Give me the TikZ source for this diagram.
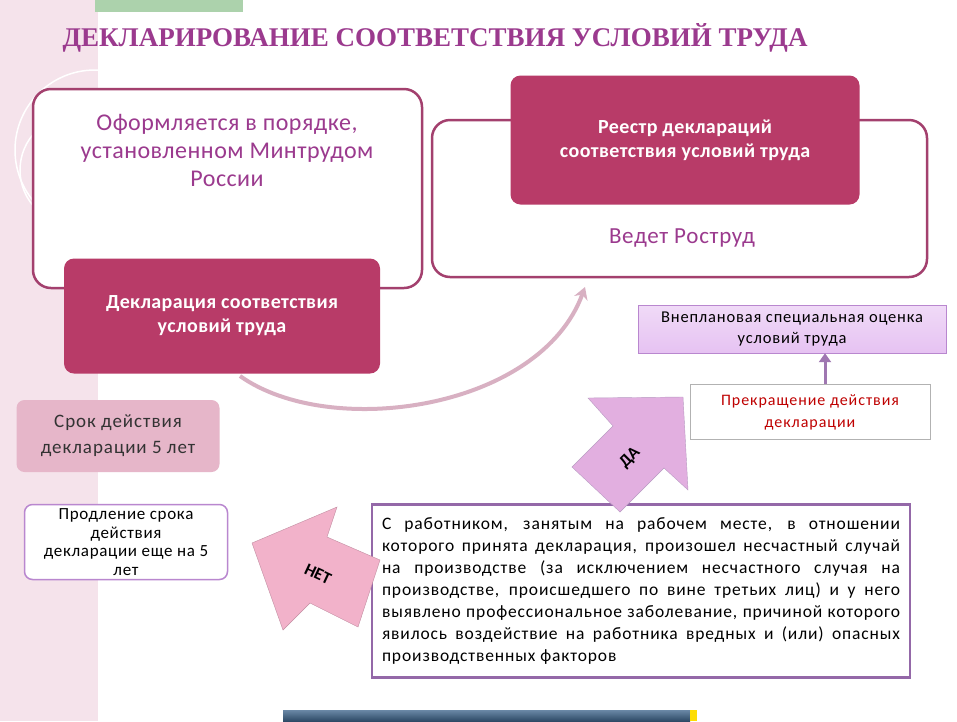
\documentclass[tikz,border=0pt]{standalone}
\usepackage{fontspec}
\setmainfont{Carlito}
\newfontfamily\titlefont{Liberation Serif}
\usetikzlibrary{arrows.meta}
\definecolor{maroon}{HTML}{A3406E}
\definecolor{magbox}{HTML}{B83B68}
\definecolor{plum}{HTML}{9B3A8E}
\definecolor{pinkbg}{HTML}{F5E3EB}
\definecolor{srok}{HTML}{E6B6C9}
\definecolor{lav}{HTML}{E6C2F2}
\definecolor{lavd}{HTML}{B987CF}
\definecolor{purpb}{HTML}{9468A8}
\definecolor{dapink}{HTML}{F2B2CA}
\definecolor{arcc}{HTML}{D8B0C2}
\definecolor{barA}{HTML}{2E4A66}
\definecolor{barB}{HTML}{6A88A6}
\tikzset{
 outbox/.style={draw=maroon,line width=2.5pt,fill=white,rounded corners=18pt},
 filbox/.style={fill=magbox,rounded corners=10pt,text=white,font=\fontsize{20}{24}\selectfont\bfseries\addfontfeatures{LetterSpace=2},align=center},
}
\begin{document}
\begin{tikzpicture}[x=1pt,y=-1pt]
\useasboundingbox (0,0) rectangle (957,721);
\fill[white] (0,0) rectangle (957,721);
\fill[pinkbg] (0,0) rectangle (98,721);
\draw[white,line width=1.5pt] (95,150) circle (80);
\draw[white,line width=1.5pt] (75,170) circle (55);
\fill[green!30!gray!50!white] (95,0) rectangle (243,12);
\shade[top color=barB,bottom color=barA] (283,710) rectangle (690,721);
\fill[yellow!80!orange] (690,710) rectangle (697,721);
\node[font=\titlefont\bfseries\fontsize{27}{30}\selectfont,text=plum] (title) at (435,38) {ДЕКЛАРИРОВАНИЕ СООТВЕТСТВИЯ УСЛОВИЙ ТРУДА};
% boxes
\draw[outbox] (33,89) rectangle (422,288);
\node[text=plum,font=\fontsize{24}{28}\selectfont\addfontfeatures{LetterSpace=2},align=center] (b1) at (227,150) {Оформляется в порядке,\\установленном Минтрудом\\России};
\node[filbox,minimum width=316pt,minimum height=115pt] (b2) at (222,316) {Декларация соответствия\\условий труда};
\draw[outbox] (432,120) rectangle (927,277);
\node[filbox,minimum width=349pt,minimum height=129pt] (b4) at (685,140) {Реестр деклараций\\соответствия условий труда};
\node[text=plum,font=\fontsize{23}{26}\selectfont\addfontfeatures{LetterSpace=3}] (b3) at (682,238) {Ведет Роструд};
\coordinate (arcend) at (585,287);
\draw[arcc,line width=4pt,-{Stealth[length=12pt,width=14pt]}] (240,376) .. controls (330,440) and (540,410) .. (arcend);
% left boxes
\node[fill=srok,rounded corners=8pt,minimum width=203pt,minimum height=72pt,align=center,font=\fontsize{19}{26}\selectfont\addfontfeatures{LetterSpace=5},text=black!80] (srok) at (118,436) {Срок действия\\декларации 5 лет};
\node[draw=lavd,line width=1.5pt,fill=white,rounded corners=8pt,minimum width=203pt,minimum height=75pt,align=center,font=\fontsize{17}{18.5}\selectfont\addfontfeatures{LetterSpace=4},inner sep=1pt] (prod) at (126,542) {Продление срока\\действия\\декларации еще на 5\\лет};
% main text box
\node[draw=purpb,line width=2.5pt,fill=white,minimum width=538pt,minimum height=173pt,text width=518pt,align=justify,font=\fontsize{17.5}{22}\selectfont\addfontfeatures{LetterSpace=5},inner sep=9pt] (main) at (641,591) {С работником, занятым на рабочем месте, в отношении которого принята декларация, произошел несчастный случай на производстве (за исключением несчастного случая на производстве, происшедшего по вине третьих лиц) и у него выявлено профессиональное заболевание, причиной которого явилось воздействие на работника вредных и (или) опасных производственных факторов};
% right boxes
\node[draw=lavd,top color=lav!60,bottom color=lav,minimum width=308pt,minimum height=48pt,align=center,font=\fontsize{16.5}{21}\selectfont\addfontfeatures{LetterSpace=5}] (vnepl) at (792,329) {Внеплановая специальная оценка\\условий труда};
\node[draw=gray!60,fill=white,minimum width=240pt,minimum height=55pt,align=center,font=\fontsize{16}{22}\selectfont\addfontfeatures{LetterSpace=6},text=red!75!black] (prekr) at (810,412) {Прекращение действия\\декларации};
\draw[purpb!90,line width=3pt,-{Triangle[length=9pt,width=12pt]}] (prekr.north -| 825,0) -- (vnepl.south -| 825,0);
% block arrows
\draw[fill=lav!90!purple,draw=lav!80!black] (683,397) -- (588,398) -- (613,426) -- (572,467) -- (620,512) -- (664,468) -- (688,490) -- cycle;
\node[rotate=45,font=\fontsize{17}{20}\selectfont\bfseries] (da) at (630,458) {ДА};
\draw[fill=dapink,draw=dapink!80!black] (252,543) -- (337,507) -- (327,537) -- (380,560) -- (358,627) -- (310,603) -- (283,630) -- cycle;
\node[rotate=-25,font=\fontsize{17}{20}\selectfont\bfseries] (net) at (318,574) {НЕТ};
\end{tikzpicture}
\end{document}
